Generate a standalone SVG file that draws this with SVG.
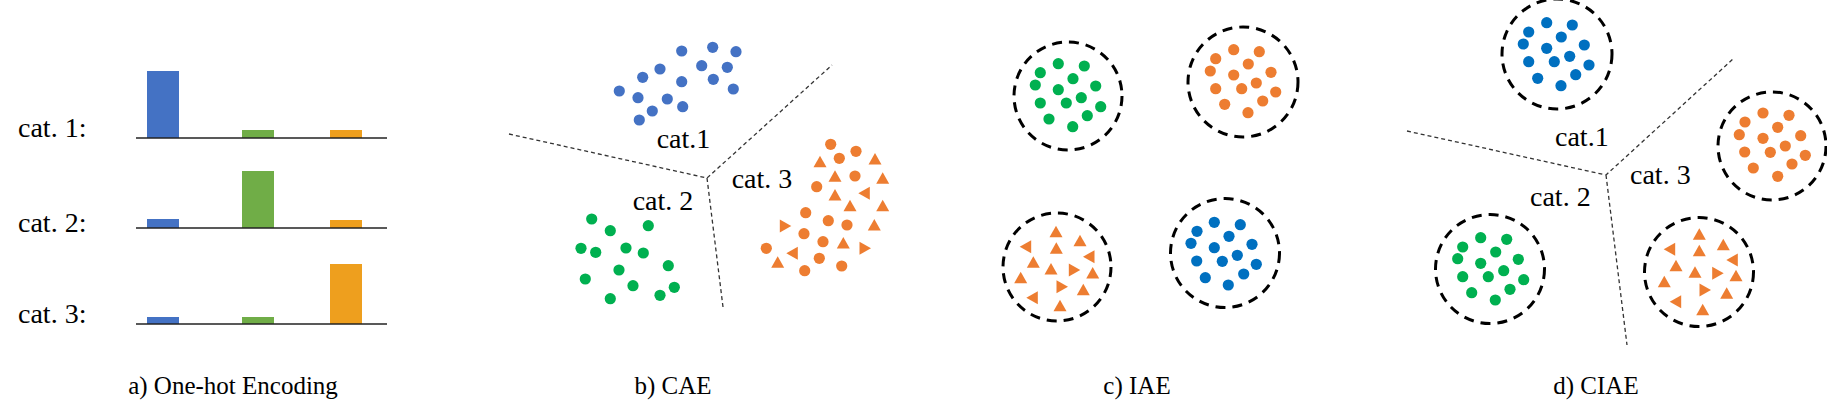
<svg xmlns="http://www.w3.org/2000/svg" xmlns:xlink="http://www.w3.org/1999/xlink" width="1827" height="418" viewBox="0 0 1827 418" font-family="'Liberation Serif', 'DejaVu Serif', serif">
<style>
text{font-family:'Liberation Serif','DejaVu Serif',serif;fill:#000}
.lbl{font-size:28px}
.cap{font-size:25px;text-anchor:middle}
.ax{stroke:#222;stroke-width:1.5}
.sep{stroke:#333;stroke-width:1.3;stroke-dasharray:4 3;fill:none}
.ring{fill:none;stroke:#000;stroke-width:3;stroke-dasharray:10 7}
.bb{fill:#4472C4}.gb{fill:#70AD47}.ob{fill:#EE9F1E}
.b1{fill:#4472C4}.b2{fill:#0070C0}.g{fill:#00B050}.o{fill:#ED7D31}
</style>
<defs>
<circle id="d" r="5.6"/>
<polygon id="tu" points="0,-7 6.5,4.5 -6.5,4.5"/>
<polygon id="tr" points="7,0 -4.5,6.5 -4.5,-6.5"/>
<polygon id="tl" points="-7,0 4.5,6.5 4.5,-6.5"/>
</defs>

<g id="panel-a">
<text class="lbl" x="18" y="137">cat. 1:</text>
<text class="lbl" x="18" y="232">cat. 2:</text>
<text class="lbl" x="18" y="323">cat. 3:</text>
<rect class="bb" x="147" y="71" width="32" height="67"/>
<rect class="gb" x="242" y="130" width="32" height="8"/>
<rect class="ob" x="330" y="130" width="32" height="8"/>
<rect class="bb" x="147" y="219" width="32" height="9"/>
<rect class="gb" x="242" y="171" width="32" height="57"/>
<rect class="ob" x="330" y="220" width="32" height="8"/>
<rect class="ob" x="330" y="264" width="32" height="60"/>
<rect class="bb" x="147" y="317" width="32" height="7"/>
<rect class="gb" x="242" y="317" width="32" height="7"/>
<line class="ax" x1="136" y1="138" x2="387" y2="138"/>
<line class="ax" x1="136" y1="228" x2="387" y2="228"/>
<line class="ax" x1="136" y1="324" x2="387" y2="324"/>
<text class="cap" x="233" y="394">a) One-hot Encoding</text>
</g>

<g id="connectors">
<path class="sep" d="M509,134 L707,178 L832,65 M707,178 L723,307"/>
<path class="sep" d="M1407,131 L1606,175 L1733,59 M1606,175 L1627,345"/>
</g>

<g id="panel-b">
<g class="b1">
<use href="#d" x="681.7" y="51"/><use href="#d" x="712.7" y="47.3"/><use href="#d" x="736" y="51.7"/>
<use href="#d" x="660" y="69"/><use href="#d" x="701.7" y="65.7"/><use href="#d" x="727.3" y="67.3"/>
<use href="#d" x="642.7" y="77.3"/><use href="#d" x="681.7" y="81.7"/><use href="#d" x="713.3" y="79.3"/>
<use href="#d" x="619.3" y="91"/><use href="#d" x="638" y="97.7"/><use href="#d" x="667.3" y="99"/>
<use href="#d" x="733.3" y="89"/><use href="#d" x="682.7" y="106.7"/><use href="#d" x="652.3" y="111"/>
<use href="#d" x="639.3" y="120"/>
</g>
<g class="g">
<use href="#d" x="591.7" y="219"/><use href="#d" x="610.3" y="230.7"/><use href="#d" x="648.3" y="225.7"/>
<use href="#d" x="581" y="248.3"/><use href="#d" x="595.7" y="252.3"/><use href="#d" x="626" y="248"/>
<use href="#d" x="643.3" y="253"/><use href="#d" x="668.3" y="265.7"/><use href="#d" x="619" y="270"/>
<use href="#d" x="585.3" y="279"/><use href="#d" x="633" y="285.7"/><use href="#d" x="674.3" y="287.3"/>
<use href="#d" x="660" y="295.3"/><use href="#d" x="610.3" y="298.7"/>
</g>
<g class="o">
<use href="#d" x="830.7" y="144.3"/><use href="#d" x="839.3" y="158.3"/><use href="#d" x="856" y="151.3"/>
<use href="#d" x="855" y="176"/><use href="#d" x="816.7" y="186.7"/><use href="#d" x="805.7" y="212.7"/>
<use href="#d" x="828.3" y="220.7"/><use href="#d" x="847" y="225"/><use href="#d" x="804" y="233.7"/>
<use href="#d" x="823" y="241.7"/><use href="#d" x="766.3" y="248.3"/><use href="#d" x="819.3" y="258.3"/>
<use href="#d" x="804.7" y="270.7"/><use href="#d" x="841.7" y="266"/>
<use href="#tu" x="820" y="162.7"/><use href="#tu" x="835" y="177.3"/><use href="#tu" x="875" y="160"/>
<use href="#tu" x="882.7" y="179.3"/><use href="#tu" x="835" y="196"/><use href="#tu" x="850" y="206.7"/>
<use href="#tu" x="882.7" y="206.7"/><use href="#tu" x="874.3" y="226"/><use href="#tu" x="843.3" y="244"/>
<use href="#tu" x="777.7" y="263.3"/>
<use href="#tr" x="784.3" y="226"/><use href="#tr" x="864" y="248.3"/>
<use href="#tl" x="865.3" y="193.3"/><use href="#tl" x="793.3" y="253.3"/>
</g>
<text class="lbl" x="656.7" y="148">cat.1</text>
<text class="lbl" x="731.7" y="188">cat. 3</text>
<text class="lbl" x="632.7" y="210">cat. 2</text>
<text class="cap" x="673" y="394">b) CAE</text>
</g>

<g id="panel-c">
<circle class="ring" cx="1068" cy="96" r="54"/>
<g class="g">
<use href="#d" x="1058.3" y="63.7"/><use href="#d" x="1084.3" y="66"/><use href="#d" x="1040.3" y="72.7"/>
<use href="#d" x="1073" y="78.7"/><use href="#d" x="1035.3" y="85"/><use href="#d" x="1058.3" y="89.7"/>
<use href="#d" x="1095.7" y="86"/><use href="#d" x="1040.3" y="103"/><use href="#d" x="1066.3" y="103"/>
<use href="#d" x="1081.3" y="97.7"/><use href="#d" x="1100.7" y="106.7"/><use href="#d" x="1049" y="119"/>
<use href="#d" x="1087.3" y="115.7"/><use href="#d" x="1072.7" y="126.7"/>
</g>
<circle class="ring" cx="1243" cy="82" r="55"/>
<g class="o">
<use href="#d" x="1215.7" y="58.7"/><use href="#d" x="1233.7" y="49.7"/><use href="#d" x="1259.3" y="51.7"/>
<use href="#d" x="1210.3" y="71"/><use href="#d" x="1248.3" y="64"/><use href="#d" x="1233.7" y="75"/>
<use href="#d" x="1271" y="72.3"/><use href="#d" x="1215.7" y="88.7"/><use href="#d" x="1241.7" y="88.7"/>
<use href="#d" x="1256.3" y="83"/><use href="#d" x="1275.7" y="92"/><use href="#d" x="1224.7" y="104.3"/>
<use href="#d" x="1262.7" y="101"/><use href="#d" x="1248" y="112.7"/>
</g>
<circle class="ring" cx="1057" cy="267" r="54"/>
<g class="o">
<use href="#tu" x="1056" y="232.7"/><use href="#tu" x="1080" y="241.7"/><use href="#tu" x="1056.3" y="249.3"/>
<use href="#tu" x="1033.3" y="263.3"/><use href="#tu" x="1051" y="270"/><use href="#tu" x="1092.7" y="274"/>
<use href="#tu" x="1020.7" y="278.7"/><use href="#tu" x="1083.3" y="290.7"/><use href="#tu" x="1060" y="306.7"/>
<use href="#tl" x="1026.7" y="246.7"/><use href="#tl" x="1090" y="256.7"/><use href="#tl" x="1033.3" y="297.7"/>
<use href="#tr" x="1073.3" y="270"/><use href="#tr" x="1061" y="286.7"/>
</g>
<circle class="ring" cx="1225" cy="253" r="54.5"/>
<g class="b2">
<use href="#d" x="1214.3" y="222.3"/><use href="#d" x="1240.3" y="224.7"/><use href="#d" x="1197" y="231.3"/>
<use href="#d" x="1229" y="236.3"/><use href="#d" x="1191" y="243.3"/><use href="#d" x="1214.3" y="247.7"/>
<use href="#d" x="1252" y="244.3"/><use href="#d" x="1196.7" y="261"/><use href="#d" x="1222.3" y="261.3"/>
<use href="#d" x="1237.3" y="255.3"/><use href="#d" x="1256.3" y="264.3"/><use href="#d" x="1205.3" y="277.7"/>
<use href="#d" x="1243.7" y="274"/><use href="#d" x="1228.3" y="285"/>
</g>
<text class="cap" x="1137" y="394">c) IAE</text>
</g>

<g id="panel-d">
<circle class="ring" cx="1557" cy="54" r="55"/>
<g class="b2">
<use href="#d" x="1546.7" y="22.7"/><use href="#d" x="1572.3" y="25"/><use href="#d" x="1528.7" y="32"/>
<use href="#d" x="1561.3" y="37"/><use href="#d" x="1523.3" y="44"/><use href="#d" x="1546.7" y="48.3"/>
<use href="#d" x="1584.3" y="45"/><use href="#d" x="1528.7" y="61.7"/><use href="#d" x="1554.3" y="61.7"/>
<use href="#d" x="1569.7" y="56.3"/><use href="#d" x="1589" y="65"/><use href="#d" x="1537.7" y="78.3"/>
<use href="#d" x="1575.7" y="74.7"/><use href="#d" x="1561" y="85.7"/>
</g>
<circle class="ring" cx="1772" cy="146" r="54"/>
<g class="o">
<use href="#d" x="1763" y="113"/><use href="#d" x="1789" y="115.3"/><use href="#d" x="1745" y="122"/>
<use href="#d" x="1777.7" y="127.3"/><use href="#d" x="1739.3" y="134.7"/><use href="#d" x="1763" y="138.3"/>
<use href="#d" x="1800.7" y="135.7"/><use href="#d" x="1744.7" y="152"/><use href="#d" x="1770.3" y="152.3"/>
<use href="#d" x="1785.3" y="146"/><use href="#d" x="1805.3" y="155.3"/><use href="#d" x="1753.3" y="168"/>
<use href="#d" x="1792" y="164"/><use href="#d" x="1777.7" y="176.3"/>
</g>
<circle class="ring" cx="1490" cy="269" r="54.5"/>
<g class="g">
<use href="#d" x="1480.7" y="237.7"/><use href="#d" x="1506.7" y="239.3"/><use href="#d" x="1462.7" y="247"/>
<use href="#d" x="1495.7" y="252"/><use href="#d" x="1457.7" y="258.7"/><use href="#d" x="1480.7" y="263.3"/>
<use href="#d" x="1518.3" y="259.3"/><use href="#d" x="1462.7" y="276.7"/><use href="#d" x="1488.3" y="276.7"/>
<use href="#d" x="1503.7" y="270.7"/><use href="#d" x="1523.7" y="279.7"/><use href="#d" x="1471.7" y="292.7"/>
<use href="#d" x="1510" y="289.3"/><use href="#d" x="1495.3" y="300"/>
</g>
<circle class="ring" cx="1699" cy="272" r="54.5"/>
<g class="o">
<use href="#tu" x="1699.3" y="235.3"/><use href="#tu" x="1723.3" y="245.7"/><use href="#tu" x="1699.3" y="251.7"/>
<use href="#tu" x="1676" y="266.7"/><use href="#tu" x="1695" y="273.3"/><use href="#tu" x="1736" y="276.7"/>
<use href="#tu" x="1664.3" y="282.7"/><use href="#tu" x="1726.7" y="294.3"/><use href="#tu" x="1702.7" y="310.7"/>
<use href="#tl" x="1670.7" y="249.3"/><use href="#tl" x="1733.3" y="260"/><use href="#tl" x="1676.7" y="301.7"/>
<use href="#tr" x="1716.7" y="273.3"/><use href="#tr" x="1704" y="290"/>
</g>
<text class="lbl" x="1555" y="146">cat.1</text>
<text class="lbl" x="1630" y="184">cat. 3</text>
<text class="lbl" x="1530" y="206">cat. 2</text>
<text class="cap" x="1596" y="394">d) CIAE</text>
</g>
</svg>
